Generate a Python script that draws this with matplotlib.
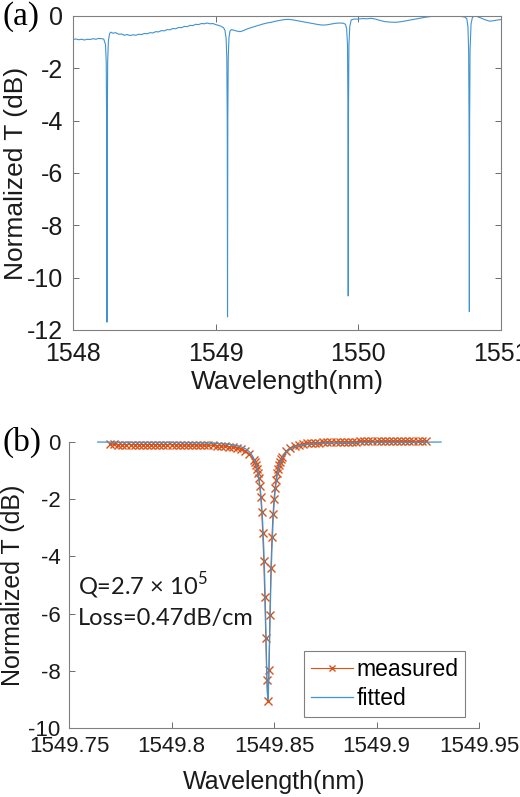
import matplotlib
matplotlib.use("Agg")
import matplotlib.pyplot as plt

plt.rcParams['font.family'] = ['Liberation Sans', 'DejaVu Sans']
plt.rcParams['axes.unicode_minus'] = False
plt.rcParams['mathtext.fontset'] = 'custom'
plt.rcParams['mathtext.rm'] = 'Lato'

# (a) wide sweep with four resonances
a_wl = [1548.000, 1548.020, 1548.040, 1548.060, 1548.080, 1548.100, 1548.120, 1548.140, 1548.160, 1548.180,
        1548.200, 1548.215, 1548.228, 1548.233, 1548.236, 1548.238, 1548.240, 1548.243, 1548.248, 1548.256,
        1548.265, 1548.280, 1548.300, 1548.320, 1548.340, 1548.360, 1548.380, 1548.400, 1548.420, 1548.440,
        1548.460, 1548.480, 1548.500, 1548.520, 1548.540, 1548.560, 1548.580, 1548.600, 1548.620, 1548.640,
        1548.660, 1548.680, 1548.700, 1548.720, 1548.740, 1548.760, 1548.780, 1548.800, 1548.820, 1548.840,
        1548.860, 1548.880, 1548.900, 1548.920, 1548.940, 1548.960, 1548.980, 1549.000, 1549.020, 1549.040,
        1549.055, 1549.065, 1549.073, 1549.078, 1549.081, 1549.083, 1549.085, 1549.088, 1549.093, 1549.100,
        1549.110, 1549.130, 1549.150, 1549.170, 1549.190, 1549.210, 1549.240, 1549.270, 1549.300, 1549.330,
        1549.360, 1549.390, 1549.420, 1549.450, 1549.480, 1549.510, 1549.540, 1549.570, 1549.600, 1549.630,
        1549.660, 1549.690, 1549.720, 1549.750, 1549.780, 1549.810, 1549.840, 1549.870, 1549.895, 1549.910,
        1549.918, 1549.924, 1549.927, 1549.929, 1549.931, 1549.934, 1549.940, 1549.950, 1549.970, 1550.000,
        1550.030, 1550.060, 1550.090, 1550.120, 1550.150, 1550.180, 1550.210, 1550.240, 1550.270, 1550.300,
        1550.330, 1550.360, 1550.390, 1550.420, 1550.450, 1550.480, 1550.510, 1550.540, 1550.570, 1550.600,
        1550.630, 1550.660, 1550.690, 1550.720, 1550.745, 1550.760, 1550.768, 1550.773, 1550.776, 1550.778,
        1550.780, 1550.783, 1550.790, 1550.800, 1550.815, 1550.830, 1550.860, 1550.890, 1550.920, 1550.950,
        1550.980, 1551.000]
a_T = [-0.90, -0.88, -0.91, -0.89, -0.92, -0.89, -0.90, -0.87, -0.89, -0.86,
       -0.87, -0.88, -1.10, -1.80, -4.50, -11.70, -4.50, -1.70, -0.95, -0.68,
       -0.62, -0.66, -0.64, -0.70, -0.69, -0.74, -0.71, -0.75, -0.72, -0.74,
       -0.70, -0.71, -0.67, -0.68, -0.64, -0.65, -0.60, -0.61, -0.56, -0.57,
       -0.52, -0.53, -0.48, -0.49, -0.44, -0.45, -0.40, -0.41, -0.36, -0.37,
       -0.32, -0.33, -0.29, -0.30, -0.27, -0.30, -0.29, -0.33, -0.36, -0.40,
       -0.45, -0.55, -0.85, -1.60, -4.00, -11.50, -4.00, -1.60, -0.85, -0.58,
       -0.52, -0.55, -0.58, -0.60, -0.57, -0.52, -0.46, -0.41, -0.36, -0.31,
       -0.27, -0.24, -0.20, -0.17, -0.14, -0.13, -0.15, -0.18, -0.21, -0.24,
       -0.27, -0.30, -0.33, -0.35, -0.34, -0.31, -0.28, -0.27, -0.28, -0.32,
       -0.50, -1.10, -3.50, -10.70, -3.50, -1.10, -0.40, -0.15, -0.12, -0.12,
       -0.10, -0.11, -0.09, -0.12, -0.17, -0.21, -0.23, -0.24, -0.24, -0.22,
       -0.19, -0.16, -0.13, -0.10, -0.07, -0.04, -0.02, -0.01, 0.00, -0.01,
       0.00, -0.01, -0.01, -0.02, -0.04, -0.10, -0.40, -1.30, -4.00, -11.30,
       -4.00, -1.30, -0.30, -0.05, 0.00, -0.02, -0.08, -0.15, -0.20, -0.18,
       -0.15, -0.14]

# (b) single resonance, measured points
meas_wl = [1549.770, 1549.772, 1549.774, 1549.776, 1549.778, 1549.780, 1549.782, 1549.784, 1549.786, 1549.788,
           1549.790, 1549.792, 1549.794, 1549.796, 1549.798, 1549.800, 1549.802, 1549.804, 1549.806, 1549.808,
           1549.810, 1549.812, 1549.814, 1549.816, 1549.818, 1549.820, 1549.822, 1549.824, 1549.826, 1549.828,
           1549.830, 1549.832, 1549.834, 1549.836, 1549.838,
           1549.8400, 1549.8405, 1549.8410, 1549.8415, 1549.8420, 1549.8425, 1549.8430, 1549.8435, 1549.8440,
           1549.8445, 1549.8450, 1549.8455, 1549.8460, 1549.8465, 1549.8470, 1549.8475, 1549.8480, 1549.8485,
           1549.8490, 1549.8495, 1549.8500, 1549.8505, 1549.8510, 1549.8515, 1549.8520, 1549.8525, 1549.8530,
           1549.8535, 1549.8540,
           1549.856, 1549.858, 1549.860, 1549.862, 1549.864, 1549.866, 1549.868, 1549.870, 1549.872, 1549.874,
           1549.876, 1549.878, 1549.880, 1549.882, 1549.884, 1549.886, 1549.888, 1549.890, 1549.892, 1549.894,
           1549.896, 1549.898, 1549.900, 1549.902, 1549.904, 1549.906, 1549.908, 1549.910, 1549.912, 1549.914,
           1549.916, 1549.918, 1549.920, 1549.922, 1549.924]
meas_T = [-0.08, -0.08, -0.09, -0.09, -0.09, -0.09, -0.09, -0.09, -0.09, -0.09,
          -0.09, -0.09, -0.09, -0.09, -0.09, -0.09, -0.09, -0.10, -0.10, -0.10,
          -0.10, -0.10, -0.11, -0.11, -0.11, -0.12, -0.13, -0.13, -0.15, -0.16,
          -0.18, -0.21, -0.25, -0.31, -0.42,
          -0.63, -0.71, -0.80, -0.93, -1.08, -1.27, -1.55, -1.91, -2.44,
          -3.19, -4.15, -5.41, -6.87, -8.32, -9.06, -7.97, -6.05, -4.42,
          -3.31, -2.53, -1.99, -1.60, -1.32, -1.10, -0.93, -0.80, -0.69,
          -0.59, -0.52,
          -0.31, -0.20, -0.14, -0.10, -0.07, -0.05, -0.04, -0.02, -0.02, -0.01,
          0.00, 0.00, 0.00, 0.01, 0.01, 0.01, 0.01, 0.01, 0.02, 0.02,
          0.02, 0.02, 0.02, 0.02, 0.02, 0.02, 0.02, 0.02, 0.02, 0.02,
          0.02, 0.02, 0.02, 0.02, 0.03]

# (b) fitted Lorentzian curve
fit_wl = [1549.764, 1549.777, 1549.787, 1549.797, 1549.807, 1549.817, 1549.822, 1549.827, 1549.830, 1549.832,
          1549.834, 1549.836, 1549.838, 1549.839, 1549.840, 1549.841, 1549.842, 1549.8425, 1549.843, 1549.8435,
          1549.844, 1549.8445, 1549.845, 1549.84525, 1549.8455, 1549.84575, 1549.846, 1549.84625, 1549.8465,
          1549.84675, 1549.847,
          1549.84725, 1549.8475, 1549.84775, 1549.848, 1549.84825, 1549.8485, 1549.84875, 1549.849, 1549.8495,
          1549.850, 1549.8505, 1549.851, 1549.8515, 1549.852, 1549.853, 1549.854, 1549.855, 1549.856, 1549.858,
          1549.860, 1549.862, 1549.864, 1549.867, 1549.872, 1549.877, 1549.887, 1549.897, 1549.907, 1549.917,
          1549.9315]
fit_T = [0.00, -0.01, -0.01, -0.01, -0.02, -0.03, -0.05, -0.07, -0.10, -0.13,
         -0.17, -0.23, -0.34, -0.43, -0.55, -0.72, -1.00, -1.19, -1.45, -1.78,
         -2.23, -2.85, -3.71, -4.26, -4.89, -5.62, -6.44, -7.31, -8.14,
         -8.76, -9.00,
         -8.76, -8.14, -7.31, -6.44, -5.62, -4.89, -4.26, -3.71, -2.85,
         -2.23, -1.78, -1.45, -1.19, -1.00, -0.72, -0.55, -0.43, -0.34, -0.23,
         -0.17, -0.13, -0.10, -0.07, -0.05, -0.03, -0.02, -0.01, -0.01, -0.01,
         0.00]

a_xticks = [1548, 1549, 1550, 1551]
a_yticks = [-12, -10, -8, -6, -4, -2, 0]
b_xticks = [1549.75, 1549.80, 1549.85, 1549.90, 1549.95]
b_xticklabels = ['1549.75', '1549.8', '1549.85', '1549.9', '1549.95']
b_yticks = [-10, -8, -6, -4, -2, 0]

blue = '#3f93d1'
orange = '#D95319'
spine_col = '#808080'

fig = plt.figure(figsize=(5.2, 7.97), dpi=100)

# panel (a)
ax1 = fig.add_axes([0.1404, 0.5860, 0.8231, 0.3940])
ax1.plot(a_wl, a_T, color=blue, lw=0.8)
ax1.set_xlim(1548, 1551)
ax1.set_ylim(-12, 0)
ax1.set_xticks(a_xticks)
ax1.set_yticks(a_yticks)
ax1.tick_params(direction='in', top=True, right=True, length=4, width=0.6,
                color='#555555', labelcolor='#1a1a1a', labelsize=18)
ax1.tick_params(axis='x', pad=9)
ax1.tick_params(axis='y', pad=7)
for s in ax1.spines.values():
    s.set_color(spine_col)
    s.set_linewidth(0.8)
ax1.set_xlabel('Wavelength(nm)', fontsize=19, color='#1a1a1a')
ax1.xaxis.set_label_coords(0.5, -0.128)
ax1.set_ylabel('Normalized T (dB)', fontsize=19, color='#1a1a1a')
ax1.yaxis.set_label_coords(-0.105, 0.5)
fig.text(0.004, 0.999, '(a)', family='Liberation Serif', fontsize=24, va='top')

# panel (b)
ax2 = fig.add_axes([0.1327, 0.0866, 0.7885, 0.3588])
ax2.plot(meas_wl, meas_T, color=orange, lw=0.8, marker='x', ms=5.5, mew=1.0,
         label='measured', clip_on=False)
ax2.plot(fit_wl, fit_T, color=blue, lw=0.9, label='fitted', clip_on=False)
ax2.set_xlim(1549.75, 1549.95)
ax2.set_ylim(-10, 0)
ax2.set_xticks(b_xticks)
ax2.set_xticklabels(b_xticklabels)
ax2.set_yticks(b_yticks)
ax2.tick_params(direction='in', length=4, width=0.6, color='#555555',
                labelcolor='#1a1a1a', labelsize=16, pad=6)
ax2.spines['top'].set_visible(False)
ax2.spines['right'].set_visible(False)
for s in ['left', 'bottom']:
    ax2.spines[s].set_color(spine_col)
    ax2.spines[s].set_linewidth(0.8)
ax2.set_xlabel('Wavelength(nm)', fontsize=18, color='#1a1a1a')
ax2.xaxis.set_label_coords(0.5, -0.148)
ax2.set_ylabel('Normalized T (dB)', fontsize=18, color='#1a1a1a')
ax2.yaxis.set_label_coords(-0.107, 0.5)

leg = ax2.legend(loc='lower right', bbox_to_anchor=(0.966, 0.0395), borderaxespad=0,
                 fontsize=16.5, fancybox=False, edgecolor=spine_col, framealpha=1,
                 handlelength=1.85, handletextpad=0.12, labelspacing=0.25,
                 borderpad=0.3, numpoints=1, markerscale=0.7)
leg.get_frame().set_linewidth(0.8)

ax2.text(0.022, 0.4685, 'Q=2.7 × 10$^5$', transform=ax2.transAxes,
         family='Lato', fontsize=17, va='baseline', color='#1a1a1a')
ax2.text(0.022, 0.360, 'Loss=0.47dB/cm', transform=ax2.transAxes,
         family='Lato', fontsize=17, va='baseline', color='#1a1a1a')
fig.text(0.004, 0.4642, '(b)', family='Liberation Serif', fontsize=24, va='top')

fig.savefig('out.png', dpi=100)
